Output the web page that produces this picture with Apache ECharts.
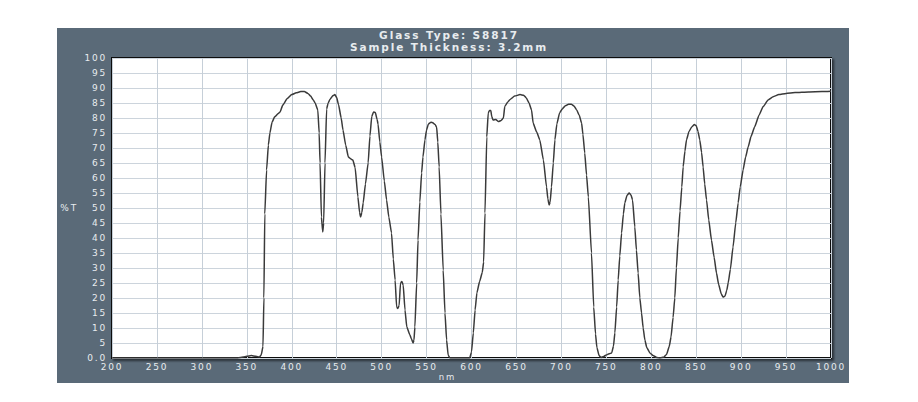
<!DOCTYPE html>
<html>
<head>
<meta charset="utf-8">
<script src="https://cdn.jsdelivr.net/npm/echarts@6/dist/echarts.min.js"></script>
<style>
  html, body { margin: 0; padding: 0; background: #ffffff; }
  #chart { width: 918px; height: 402px; }
  #chart text { letter-spacing: 1.8px; }
  #chart text[style*="Verdana"] { letter-spacing: 1.9px; }
</style>
</head>
<body>
<div id="chart"></div>
<script>
// Data (wavelength in nm, transmittance in %T)
var wavelengths = [
  200, 250, 300, 340, 346, 350, 355, 360, 364, 366, 368, 369, 370, 372, 374, 375.7, 378, 381, 385, 387,
  390, 395, 400, 405, 410, 414, 418, 421, 424, 426, 429, 430.5, 431.5, 433, 434.5, 435.5, 437, 438.8, 440.5, 442.5,
  446, 448, 450, 452, 455, 457, 460, 463, 466, 468, 470.5, 473.6, 475.5, 476.6, 478, 479.5, 482, 485, 487, 489,
  491, 493, 495, 496, 498, 500, 503, 505.5, 508, 511, 513, 515, 516.7, 518, 519.5, 521, 522.5, 524, 526, 528,
  531.5, 533, 535, 536, 537, 539, 540.5, 542.5, 544.5, 546, 548.2, 550, 552, 555, 557, 559.5, 561.2, 562.5,
  564, 566, 568.5, 570.5, 572.3, 574, 576, 590, 598, 600, 602, 604, 606, 609, 612, 613.5, 615, 617, 618.6, 620,
  621.5, 622.5, 624, 627, 630, 633, 635.5, 637, 640, 643, 648, 654, 658, 661, 664, 666.8, 668.6, 672.4, 676, 680,
  683.5, 685, 686.4, 687.5, 689, 691, 692.8, 695, 698, 701, 704, 708, 711, 714, 717, 720, 722.5, 724, 726, 728,
  730, 733.5, 736, 738, 739.5, 742, 744, 747, 750, 753, 756, 758, 759.5, 761.5, 763.2, 765, 767, 769, 770.6, 773,
  775.4, 777.5, 779.2, 781.7, 783.5, 785.4, 787.3, 789.2, 791, 792.9, 795, 798.5, 802, 806, 810, 814, 817, 820, 822, 824.3,
  826.2, 828, 830, 832, 834, 835.5, 837.5, 839.2, 842, 845, 848, 850, 852, 854, 856, 857.7, 859.5, 861.5, 864, 867,
  870, 872.6, 875, 878, 880, 882, 884, 885.6, 888, 891, 894, 896.7, 899, 902.2, 905, 907.8, 911, 915, 920, 924.5,
  930, 935.6, 942, 950, 960, 975, 990, 1000
];
var transmittance = [
  0, 0, 0, 0, 0.3, 0.6, 0.8, 0.6, 0.3, 1, 3.8, 20, 48, 62.7, 71, 75, 78.5, 80.4, 81.5, 82,
  84.3, 86.5, 87.8, 88.4, 88.8, 88.8, 88.2, 87.3, 86, 85, 82.7, 75, 65, 47, 42, 45, 65, 83, 85, 86.2,
  87.5, 87.8, 86.8, 84.5, 80, 76, 71, 67, 66.3, 66, 63.5, 53.7, 48.5, 47, 48.5, 51.7, 58, 65, 74, 80.5,
  82, 81.8, 79.5, 78, 72, 67, 59, 52.7, 47, 41.7, 33, 26, 17, 16.5, 17.5, 25, 25.5, 24.3, 16, 10.3,
  7.7, 6.5, 5, 6, 10.3, 25, 39.3, 52, 61.7, 67, 72.7, 76, 78, 78.6, 78.4, 77.8, 77, 72,
  63.7, 48, 29.3, 15, 6, 1, 0, 0, 0, 2, 8.3, 16, 21.7, 25.5, 28.5, 32, 48.3, 73.7, 81.7, 82.5,
  82.5, 80.5, 79.3, 79.5, 78.8, 79.2, 80, 83.8, 85.2, 86.2, 87.3, 87.8, 87.6, 86.7, 85, 82.7, 78.3, 75.4, 72.7, 66,
  57, 53, 51, 52, 57, 65, 72.7, 78, 81.7, 83, 84, 84.6, 84.6, 84, 82.7, 80.8, 78.3, 74.5, 68.3, 61,
  53.7, 35, 17, 8, 3.5, 0.8, 0.2, 0.5, 1, 1.4, 1.7, 4, 8.3, 17, 26, 34, 41.7, 48, 51.7, 54.2,
  55, 54.3, 52.7, 43.7, 36, 28.3, 20, 15, 10, 6, 3.5, 1.7, 0.8, 0.2, 0, 0.3, 1.2, 3.8, 7, 13.5,
  20, 30, 40, 49, 57, 63.7, 69, 72.7, 75.5, 77, 77.8, 77.5, 75.5, 72.7, 68.5, 63.7, 58, 52.7, 46, 39.3,
  33.5, 28.3, 24.5, 21.3, 20.3, 20.6, 22.5, 25, 29.5, 37, 45, 51.7, 57, 62.7, 67, 70.3, 73.8, 77, 81, 83.8,
  86, 87.1, 87.8, 88.2, 88.5, 88.7, 88.8, 88.9
];
var titleLines = ['Glass Type: S8817', 'Sample Thickness: 3.2mm'];
var xAxisName = 'nm';
var yAxisName = '%T';

var seriesData = wavelengths.map(function (w, i) { return [w, transmittance[i]]; });

var labelColor = '#e8ecef';
var labelFont = 'DejaVu Sans';

var chart = echarts.init(document.getElementById('chart'), null, { renderer: 'svg' });
chart.setOption({
  animation: false,
  backgroundColor: '#ffffff',
  graphic: [{
    type: 'rect',
    z: -10,
    silent: true,
    shape: { x: 57, y: 28, width: 792, height: 355 },
    style: { fill: '#5a6a78' }
  }],
  title: {
    text: titleLines.join('\n'),
    left: 449,
    top: 29,
    textAlign: 'center',
    padding: 0,
    textStyle: {
      color: labelColor,
      fontFamily: 'Verdana, DejaVu Sans',
      fontSize: 10.5,
      fontWeight: 'bold',
      lineHeight: 12
    }
  },
  grid: {
    left: 112,
    top: 58,
    width: 719,
    height: 300,
    show: true,
    backgroundColor: '#ffffff',
    borderColor: '#111111',
    borderWidth: 2,
    shadowColor: 'rgba(0,0,0,0.55)',
    shadowBlur: 2,
    shadowOffsetX: 2,
    shadowOffsetY: 2,
    containLabel: false
  },
  xAxis: {
    type: 'value',
    min: 200,
    max: 1000,
    interval: 50,
    name: xAxisName,
    nameLocation: 'middle',
    nameGap: 14,
    nameMoveOverlap: false,
    nameTextStyle: { color: labelColor, fontFamily: labelFont, fontSize: 8.5, padding: [0, 48, 0, 0] },
    axisLine: { show: false },
    axisTick: { show: false },
    axisLabel: {
      color: labelColor, fontFamily: labelFont, fontSize: 9, margin: 4,
      showMinLabel: true, showMaxLabel: true,
      formatter: function (v) { return String(v); }
    },
    splitLine: { show: true, lineStyle: { color: '#c6cfd8', width: 1 } }
  },
  yAxis: {
    type: 'value',
    min: 0,
    max: 100,
    interval: 5,
    name: yAxisName,
    nameLocation: 'middle',
    nameGap: 34,
    nameMoveOverlap: false,
    nameRotate: 0,
    nameTextStyle: { color: labelColor, fontFamily: labelFont, fontSize: 9, padding: [12, 0, 0, 0] },
    axisLine: { show: false },
    axisTick: { show: false },
    axisLabel: {
      color: labelColor, fontFamily: labelFont, fontSize: 9, margin: 5,
      padding: [5, 0, 0, 0],
      formatter: function (v) { return v === 0 ? '0.0' : String(v); }
    },
    splitLine: { show: true, lineStyle: { color: '#ccd4dc', width: 1 } }
  },
  series: [{
    type: 'line',
    data: seriesData,
    showSymbol: false,
    symbol: 'none',
    smooth: 0.15,
    smoothMonotone: 'x',
    lineStyle: { color: '#3a3a3a', width: 1.5 },
    clip: true
  }]
});
</script>
</body>
</html>
